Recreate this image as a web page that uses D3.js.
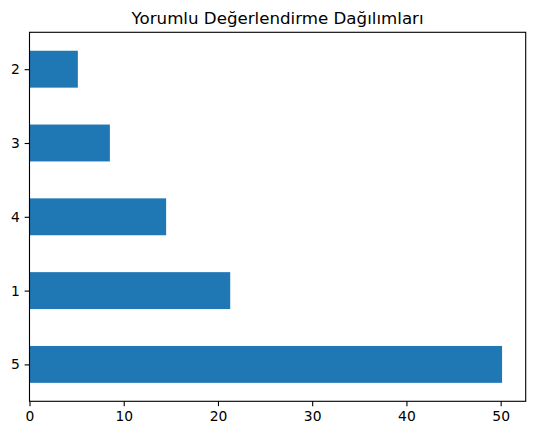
<!DOCTYPE html>
<html>
<head>
<meta charset="utf-8">
<script src="https://cdn.jsdelivr.net/npm/d3@7"></script>
<style>
  body { margin: 0; background: #fff; }
  svg { display: block; font-family: "DejaVu Sans", sans-serif; }
</style>
</head>
<body>
<svg id="chart" width="534" height="435"></svg>
<script>
const categories = ["5", "1", "4", "3", "2"];
const values = [50.15, 21.3, 14.5, 8.53, 5.13];
const xTicks = [0, 10, 20, 30, 40, 50];
const titleText = "Yorumlu Değerlendirme Dağılımları";

(function () {
const svg = d3.select("#chart");
const mLeft = 29.5, mRight = 525.7, mTop = 32.3, mBottom = 401.3;

const x = d3.scaleLinear().domain([0, d3.max(values) * 1.05]).range([mLeft, mRight]);
const y = d3.scaleLinear().domain([-0.5, categories.length - 0.5]).range([mBottom, mTop]);

const data = categories.map((c, i) => ({ c, v: values[i], i }));

svg.append("g").selectAll("rect").data(data).join("rect")
  .attr("x", x(0))
  .attr("y", d => y(d.i + 0.25))
  .attr("width", d => x(d.v) - x(0))
  .attr("height", d => y(d.i - 0.25) - y(d.i + 0.25))
  .attr("fill", "#1f77b4");

const xAxis = d3.axisBottom(x).tickValues(xTicks).tickFormat(d3.format("d"))
  .tickSizeInner(4.86).tickSizeOuter(0).tickPadding(4.86);
const gx = svg.append("g").attr("transform", `translate(0,${mBottom})`).call(xAxis);
gx.select(".domain").remove();
gx.selectAll("line").attr("stroke", "#000").attr("stroke-width", 1.11);
gx.selectAll("text").attr("font-size", 13.89).attr("fill", "#000")
  .attr("font-family", "DejaVu Sans");

const yAxis = d3.axisLeft(y).tickValues(d3.range(categories.length))
  .tickFormat(i => categories[i]).tickSizeInner(4.86).tickSizeOuter(0).tickPadding(4.86);
const gy = svg.append("g").attr("transform", `translate(${mLeft},0)`).call(yAxis);
gy.select(".domain").remove();
gy.selectAll("line").attr("stroke", "#000").attr("stroke-width", 1.11);
gy.selectAll("text").attr("font-size", 13.89).attr("fill", "#000")
  .attr("font-family", "DejaVu Sans");

svg.append("rect")
  .attr("x", mLeft).attr("y", mTop)
  .attr("width", mRight - mLeft).attr("height", mBottom - mTop)
  .attr("fill", "none").attr("stroke", "#000").attr("stroke-width", 1.11);

svg.append("text")
  .attr("x", (mLeft + mRight) / 2).attr("y", mTop - 8.33)
  .attr("text-anchor", "middle")
  .attr("font-size", 16.67).attr("fill", "#000")
  .text(titleText);
})();
</script>
</body>
</html>
